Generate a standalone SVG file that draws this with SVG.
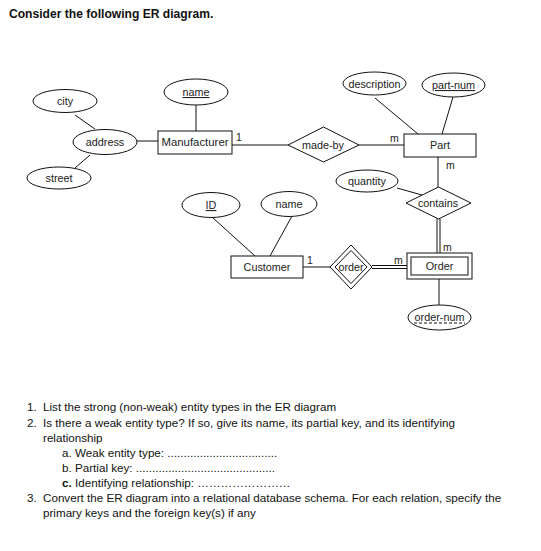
<svg xmlns="http://www.w3.org/2000/svg" width="541" height="551" viewBox="0 0 541 551">
<style>
.bg{fill:#fff}
.sh{fill:#fff;stroke:#111;stroke-width:1}
.ln{stroke:#111;stroke-width:1;fill:none}
.t{font-family:"Liberation Sans",Arial,sans-serif;font-size:10.8px;fill:#222;text-anchor:middle}
.c{font-family:"Liberation Sans",Arial,sans-serif;font-size:10.5px;fill:#222}
.q{font-family:"Liberation Sans",Arial,sans-serif;font-size:11.65px;fill:#111}
.h{font-family:"Liberation Sans",Arial,sans-serif;font-size:12.1px;font-weight:bold;fill:#111}
</style>
<rect class="bg" width="541" height="551"/>
<text class="h" x="9" y="18">Consider the following ER diagram.</text>

<g id="connectors">
<line class="ln" x1="75" y1="115" x2="95" y2="129"/>
<line class="ln" x1="90" y1="155" x2="75" y2="168"/>
<line class="ln" x1="137" y1="141" x2="158" y2="141"/>
<line class="ln" x1="196" y1="105" x2="196" y2="131"/>
<line class="ln" x1="232" y1="145" x2="288" y2="145"/>
<line class="ln" x1="359" y1="145" x2="404" y2="145"/>
<line class="ln" x1="375" y1="98" x2="418" y2="134"/>
<line class="ln" x1="453" y1="97" x2="442" y2="134"/>
<line class="ln" x1="438" y1="157" x2="438" y2="187"/>
<line class="ln" x1="397" y1="188" x2="422" y2="195"/>
<line class="ln" x1="437" y1="219" x2="437" y2="253"/>
<line class="ln" x1="440" y1="219" x2="440" y2="253"/>
<line class="ln" x1="212" y1="217" x2="255" y2="256"/>
<line class="ln" x1="292" y1="216" x2="270" y2="256"/>
<line class="ln" x1="303" y1="267" x2="330" y2="267"/>
<line class="ln" x1="372" y1="265.5" x2="407" y2="265.5"/>
<line class="ln" x1="372" y1="268.5" x2="407" y2="268.5"/>
<line class="ln" x1="439" y1="279" x2="439" y2="305"/>
<text class="c" x="236" y="141">1</text>
<text class="c" x="390" y="142">m</text>
<text class="c" x="446" y="169">m</text>
<text class="c" x="443" y="251">m</text>
<text class="c" x="394" y="264">m</text>
<text class="c" x="307" y="264">1</text>
</g>

<g id="city"><ellipse class="sh" cx="65" cy="101" rx="32" ry="11.5"/><text class="t" x="65" y="105">city</text></g>
<g id="address"><ellipse class="sh" cx="105" cy="142" rx="32" ry="12.5"/><text class="t" x="105" y="146">address</text></g>
<g id="street"><ellipse class="sh" cx="59" cy="178" rx="32" ry="11"/><text class="t" x="59" y="182">street</text></g>
<g id="mname"><ellipse class="sh" cx="196" cy="92" rx="32" ry="13"/><text class="t" x="196" y="96" text-decoration="underline">name</text></g>
<g id="manufacturer"><rect class="sh" x="158" y="131" width="74" height="23"/><text class="t" x="195" y="146" textLength="67" lengthAdjust="spacingAndGlyphs">Manufacturer</text></g>
<g id="made-by"><polygon class="sh" points="288,145 323.5,127 359,145 323.5,162"/><text class="t" x="323" y="149">made-by</text></g>
<g id="description"><ellipse class="sh" cx="374.5" cy="83.5" rx="31.5" ry="11.5"/><text class="t" x="374.5" y="87.5">description</text></g>
<g id="part-num"><ellipse class="sh" cx="453.5" cy="85" rx="31.5" ry="12"/><text class="t" x="453.5" y="89" text-decoration="underline">part-num</text></g>
<g id="part"><rect class="sh" x="404" y="134" width="72" height="23"/><text class="t" x="440" y="149">Part</text></g>
<g id="quantity"><ellipse class="sh" cx="367" cy="181" rx="31" ry="11"/><text class="t" x="367" y="185">quantity</text></g>
<g id="contains"><polygon class="sh" points="406,203 438.5,187 471,203 438.5,219"/><text class="t" x="438" y="207">contains</text></g>
<g id="id"><ellipse class="sh" cx="211" cy="205" rx="29" ry="12.5"/><text class="t" x="211" y="209" text-decoration="underline">ID</text></g>
<g id="cname"><ellipse class="sh" cx="289" cy="204" rx="28" ry="12.5"/><text class="t" x="289" y="208">name</text></g>
<g id="customer"><rect class="sh" x="231" y="256" width="72" height="22"/><text class="t" x="267" y="271">Customer</text></g>
<g id="order-rel"><polygon class="sh" points="330,267 351,245 372,267 351,289"/><polygon class="sh" points="335,267 351,250.5 367,267 351,283.5"/><text class="t" x="351" y="271">order</text></g>
<g id="order"><rect class="sh" x="407" y="253" width="65" height="26"/><rect class="sh" x="411" y="257" width="57" height="18"/><text class="t" x="439.5" y="270">Order</text></g>
<g id="order-num"><ellipse class="sh" cx="439.5" cy="317.5" rx="31.5" ry="12.5"/><text class="t" x="439.5" y="321">order-num</text><line class="ln" x1="414" y1="323" x2="465" y2="323" stroke-dasharray="3,2"/></g>

<g id="questions">
<text class="q" x="27" y="411">1.</text><text class="q" x="43" y="411">List the strong (non-weak) entity types in the ER diagram</text>
<text class="q" x="27" y="427">2.</text><text class="q" x="43" y="427">Is there a weak entity type? If so, give its name, its partial key, and its identifying</text>
<text class="q" x="43" y="442">relationship</text>
<text class="q" x="62" y="457">a.</text><text class="q" x="75" y="457">Weak entity type: ..................................</text>
<text class="q" x="62" y="472">b.</text><text class="q" x="75" y="472">Partial key: ...........................................</text>
<text class="q" x="62" y="487" font-weight="bold">c.</text><text class="q" x="75" y="487">Identifying relationship: ……………………</text>
<text class="q" x="27" y="502">3.</text><text class="q" x="43" y="502">Convert the ER diagram into a relational database schema. For each relation, specify the</text>
<text class="q" x="43" y="517">primary keys and the foreign key(s) if any</text>
</g>
</svg>
